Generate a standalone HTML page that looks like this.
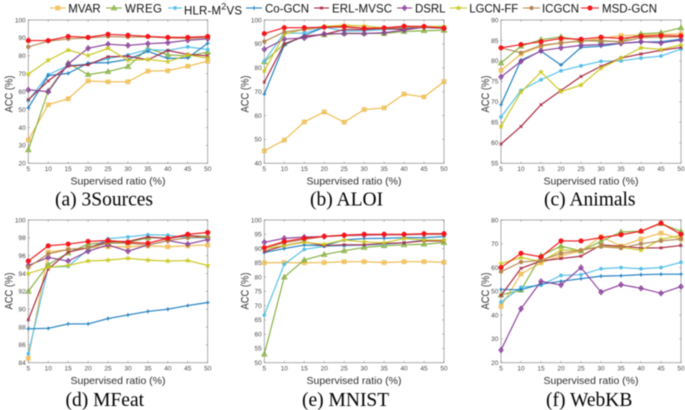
<!DOCTYPE html>
<html lang="en">
<head>
<meta charset="utf-8">
<title>Supervised ratio vs ACC on six datasets</title>
<style>
html,body{margin:0;padding:0;background:#fff;}
#figure{display:block;width:685px;height:410px;filter:blur(0.42px);}
.leg{font:11.5px "Liberation Sans",sans-serif;fill:#111;}
.axt{font:10.5px "Liberation Sans",sans-serif;fill:#2e2e2e;text-anchor:middle;}
.ayt{font:11px "Liberation Sans",sans-serif;fill:#2e2e2e;text-anchor:middle;}
.cap{font:19.5px "Liberation Serif",serif;fill:#000;}
.tick{font:6.5px "Liberation Sans",sans-serif;fill:#4a4a4a;}
</style>
</head>
<body>
<svg id="figure" xmlns="http://www.w3.org/2000/svg" width="685" height="410" viewBox="0 0 685 410">
  <g id="legend">
    <g><text class="leg" x="68.3" y="12.3" textLength="32.4">MVAR</text></g>
    <g><text class="leg" x="125" y="12.3" textLength="37">WREG</text></g>
    <g><text class="leg" x="184" y="14.6" textLength="58">HLR-M<tspan font-size="9" dy="-5">2</tspan><tspan dy="5">VS</tspan></text></g>
    <g><text class="leg" x="265" y="12.3" textLength="44">Co-GCN</text></g>
    <g><text class="leg" x="332" y="12.3" textLength="60">ERL-MVSC</text></g>
    <g><text class="leg" x="415" y="12.3" textLength="30.5">DSRL</text></g>
    <g><text class="leg" x="469.3" y="12.3" textLength="49">LGCN-FF</text></g>
    <g><text class="leg" x="542" y="12.3" textLength="37">ICGCN</text></g>
    <g><text class="leg" x="602" y="12.3" textLength="55">MSD-GCN</text></g>
  </g>

  <g>
    <text class="axt" x="118" y="184.5" textLength="95" lengthAdjust="spacingAndGlyphs">Supervised ratio (%)</text>
    <text class="ayt" transform="translate(12.7,94) rotate(-90)" textLength="37" lengthAdjust="spacingAndGlyphs">ACC (%)</text>
    <text class="cap" x="55" y="205.5">(a) 3Sources</text>
  </g>
  <g>
    <text class="axt" x="354" y="184.5" textLength="95" lengthAdjust="spacingAndGlyphs">Supervised ratio (%)</text>
    <text class="ayt" transform="translate(248.5,94) rotate(-90)" textLength="37" lengthAdjust="spacingAndGlyphs">ACC (%)</text>
    <text class="cap" x="310" y="205.5">(b) ALOI</text>
  </g>
  <g>
    <text class="axt" x="591" y="184.5" textLength="95" lengthAdjust="spacingAndGlyphs">Supervised ratio (%)</text>
    <text class="ayt" transform="translate(489,94) rotate(-90)" textLength="37" lengthAdjust="spacingAndGlyphs">ACC (%)</text>
    <text class="cap" x="544" y="205.5">(c) Animals</text>
  </g>
  <g>
    <text class="axt" x="118" y="384" textLength="95" lengthAdjust="spacingAndGlyphs">Supervised ratio (%)</text>
    <text class="ayt" transform="translate(12.7,291) rotate(-90)" textLength="37" lengthAdjust="spacingAndGlyphs">ACC (%)</text>
    <text class="cap" x="65.5" y="406">(d) MFeat</text>
  </g>
  <g>
    <text class="axt" x="354" y="384" textLength="95" lengthAdjust="spacingAndGlyphs">Supervised ratio (%)</text>
    <text class="ayt" transform="translate(248.5,291) rotate(-90)" textLength="37" lengthAdjust="spacingAndGlyphs">ACC (%)</text>
    <text class="cap" x="302" y="406">(e) MNIST</text>
  </g>
  <g>
    <text class="axt" x="591" y="384" textLength="95" lengthAdjust="spacingAndGlyphs">Supervised ratio (%)</text>
    <text class="ayt" transform="translate(489,291) rotate(-90)" textLength="37" lengthAdjust="spacingAndGlyphs">ACC (%)</text>
    <text class="cap" x="546" y="406">(f) WebKB</text>
  </g>
  <g id="plots"></g>
</svg>

<script>
// Shared categories and tick labels
const ratios = [5,10,15,20,25,30,35,40,45,50];
const seriesNames = ['MVAR','WREG','HLR-M2VS','Co-GCN','ERL-MVSC','DSRL','LGCN-FF','ICGCN','MSD-GCN'];
const seriesColors = ['#efba4a','#86b040','#55bfe8','#1f7fc0','#a8243f','#8a3f9a','#c9c71e','#b38652','#f5141a'];
const seriesMarkers = ['square','triangle','circle','plus','cross','diamond','star','hex','hexred'];

// (a) 3Sources
const ticksA = [20,30,40,50,60,70,80,90,100];
const aMVAR = [33,52.7,56,66,65.5,65.5,71.5,71.7,74.2,77];
const aWREG = [27.5,60.5,76,69.5,71.2,74,84.2,80.5,80,82];
const aHLR  = [55,69.5,74.5,75.5,78.5,80.5,83.5,83,85,83.5];
const aCo   = [51,69,70.2,76,76.2,78,82.5,78.5,78.8,87];
const aERL  = [55.5,66,74.2,75,79.5,79.8,77.8,83,80.8,80];
const aDSRL = [61,60,75.5,84.2,86.5,85.8,86.8,87.3,88.7,89.5];
const aLGCN = [69.8,77.5,83.2,80.2,84.2,77.5,78,76.7,80.5,78.7];
const aICG  = [85,88.2,89.5,90,90.8,90.5,90.6,90,89.8,90.2];
const aMSD  = [88.5,88.5,90.8,90.3,92,91.5,90.8,90.3,90.3,90.8];

// (b) ALOI
const ticksB = [40,50,60,70,80,90,100];
const bMVAR = [45.2,49.7,57.3,61.5,57.2,62.5,63.2,69,67.8,74.2];
const bWREG = [82.5,90,93,93.8,94.5,94.5,94.3,95.2,95.5,95.7];
const bHLR  = [82.8,94.5,94.5,97,95.3,95.5,96,96.3,96.8,96.5];
const bCo   = [69,89.5,93.5,97,97,96.5,96.3,96.3,97,96.8];
const bERL  = [74,90,93.2,94,96,96,96.5,96,97,96.5];
const bDSRL = [87.7,92,92.5,94.2,94.3,94.3,94.7,95.8,97,96.5];
const bLGCN = [78.7,94,96.2,97.3,97.8,97.5,96.7,97,97.3,97.3];
const bICG  = [91,95,96,97,97,96.5,96.5,97,97,97];
const bMSD  = [94.3,96.8,96.8,97,97.3,96.5,96.7,97.4,97.3,96.5];

// (c) Animals
const ticksC = [55,60,65,70,75,80,85,90];
const cMVAR = [77.7,81.7,83.6,84.4,84.8,85.5,86.2,86.3,86.5,86.6];
const cWREG = [79.5,83.6,85.2,85.9,85,84.8,84.8,86.6,86.9,88.1];
const cHLR  = [66.3,72.8,75.4,77.6,78.8,79.9,80,80.7,81.2,82.9];
const cCo   = [69.3,80.2,82.4,79,83.3,83.6,84.3,84.6,84.7,85.3];
const cERL  = [59.7,64,69.3,72.8,76.2,78.7,80.7,81.7,82.6,83.3];
const cDSRL = [76.1,79.9,82.5,83.2,83.8,84,84.3,84.7,84.4,85.1];
const cLGCN = [64,72.4,77.3,72.5,74.1,78.2,80.7,83.2,82.8,83.9];
const cICG  = [83.2,82,83.8,84.4,84.9,85,84.6,85.7,85.8,85.9];
const cMSD  = [83.2,84,84.7,85.5,85.3,85.8,85.5,86,86.2,86.1];

// (d) MFeat
const ticksD = [84,86,88,90,92,94,96,98,100];
const dMVAR = [84.5,96.4,96.7,96.9,97,97,97.1,97,97.1,97.2];
const dWREG = [92,95,96.3,97.3,97.5,97.5,98,98,98.2,98.2];
const dHLR  = [85,94.7,94.8,96.7,97.9,98.1,98.35,98.3,98,98];
const dCo   = [87.8,87.85,88.35,88.35,88.95,89.35,89.75,90,90.4,90.75];
const dERL  = [88.8,94.5,96.4,96.9,97.6,97.6,98.1,97.9,98.3,98];
const dDSRL = [94.9,95.8,95.4,96.5,97.2,96.5,97.2,97.7,97.3,97.8];
const dLGCN = [94,94.7,94.9,95.4,95.5,95.7,95.5,95.4,95.45,94.9];
const dICG  = [94.7,96.2,96.7,96.9,97.4,97.4,97.2,97.7,98,98.1];
const dMSD  = [95.4,97.1,97.3,97.6,97.7,97.5,97.4,97.95,98.4,98.6];

// (e) MNIST
const ticksE = [50,55,60,65,70,75,80,85,90,95,100];
const eMVAR = [85,85.1,85,85.1,85.4,85.4,85.1,85.4,85.4,85.2];
const eWREG = [53,80,86,87.9,89.2,90.4,91,91.3,91.5,92.1];
const eHLR  = [66.7,84.5,89.7,90.8,91,91.2,91.5,92,93,93];
const eCo   = [88.6,90,91.2,91,93,93.5,93.6,93.8,93.8,94.2];
const eERL  = [89,91,92.3,91,91.3,91.3,91.8,92,92.7,92.6];
const eDSRL = [92.2,93.6,94,94.2,94.5,94.7,94.8,94.8,95,95];
const eLGCN = [90,91,92.2,91.5,93,92.3,92,93.5,93,92.9];
const eICG  = [90.2,92,93.2,94.2,94.6,94.9,94.9,94.9,95.1,95];
const eMSD  = [90.3,92.5,93.6,94.3,94.7,95,95,95,95.2,95.2];

// (f) WebKB
const ticksF = [20,30,40,50,60,70,80];
const fMVAR = [43.7,57.3,62,65,67,73,69,72,74.5,72];
const fWREG = [48.5,50.5,65,69,67,71,75,75.3,78.5,75.2];
const fHLR  = [45.5,51.7,52.6,56.7,57,59.5,60,59.5,60,62.2];
const fCo   = [50.8,50.7,53,54.2,55.3,56.4,56.6,57,57.2,57.2];
const fERL  = [48.2,59.7,62.8,63.8,64.8,69.5,69,68.2,68.3,69.3];
const fDSRL = [25.3,42.7,54.2,52.7,60,49.7,52.8,51.3,49.2,52];
const fLGCN = [61.7,64.2,62.5,67.3,67.3,69,68.5,67.3,71.9,73.5];
const fICG  = [58.3,62.3,63,66,67.3,68.8,68.2,70,71.2,72];
const fMSD  = [60,66,64.5,71.2,71.2,72.6,73.8,75.3,78.7,74];

const NS = 'http://www.w3.org/2000/svg';
const plots = document.getElementById('plots');
const legendRoot = document.getElementById('legend');

function make(tag, attrs, parent) {
  const el = document.createElementNS(NS, tag);
  for (const k in attrs) el.setAttribute(k, attrs[k]);
  parent.appendChild(el);
  return el;
}

function drawMarker(parent, kind, cx, cy, color) {
  let el;
  const light = color + '99';
  if (kind === 'square') {
    el = make('rect', {x:cx-1.9,y:cy-1.9,width:3.8,height:3.8,fill:light,stroke:color,'stroke-width':0.8}, parent);
  } else if (kind === 'triangle') {
    el = make('polygon', {points:[cx,cy-2.7,cx+2.6,cy+1.9,cx-2.6,cy+1.9].join(' '),fill:light,stroke:color,'stroke-width':0.8}, parent);
  } else if (kind === 'circle') {
    el = make('circle', {cx:cx,cy:cy,r:1.7,fill:color,stroke:color,'stroke-width':0.4}, parent);
  } else if (kind === 'plus') {
    el = make('path', {d:'M'+(cx-1.9)+' '+cy+'H'+(cx+1.9)+'M'+cx+' '+(cy-1.9)+'V'+(cy+1.9),stroke:color,'stroke-width':1.1,fill:'none'}, parent);
  } else if (kind === 'cross') {
    el = make('path', {d:'M'+(cx-1.4)+' '+(cy-1.4)+'L'+(cx+1.4)+' '+(cy+1.4)+'M'+(cx+1.4)+' '+(cy-1.4)+'L'+(cx-1.4)+' '+(cy+1.4),stroke:color,'stroke-width':1,fill:'none'}, parent);
  } else if (kind === 'diamond') {
    el = make('polygon', {points:[cx,cy-2.6,cx+2.2,cy,cx,cy+2.6,cx-2.2,cy].join(' '),fill:light,stroke:color,'stroke-width':0.9}, parent);
  } else if (kind === 'star') {
    const pts = [];
    for (let i = 0; i < 10; i++) {
      const r = i % 2 ? 1.1 : 2.8;
      const a = -Math.PI / 2 + i * Math.PI / 5;
      pts.push(cx + r * Math.cos(a), cy + r * Math.sin(a));
    }
    el = make('polygon', {points:pts.join(' '),fill:color,stroke:color,'stroke-width':0.3}, parent);
  } else if (kind === 'hex') {
    el = make('circle', {cx:cx,cy:cy,r:2,fill:color,stroke:color,'stroke-width':0.3}, parent);
  } else {
    el = make('circle', {cx:cx,cy:cy,r:2.4,fill:color,stroke:color,'stroke-width':0.3}, parent);
  }
  return el;
}

function drawPanel(id, box, yTicks, seriesList) {
  const g = make('g', {}, plots);
  
  
  const xMin = ratios[0], xMax = ratios[ratios.length - 1];
  const yMin = yTicks[0], yMax = yTicks[yTicks.length - 1];
  const xScale = v => box.left + (v - xMin) / (xMax - xMin) * (box.right - box.left);
  const yScale = v => box.bottom - (v - yMin) / (yMax - yMin) * (box.bottom - box.top);

  const frame = make('rect', {x:box.left,y:box.top,width:box.right-box.left,height:box.bottom-box.top,fill:'#fff',stroke:'#8a8a8a','stroke-width':0.7}, g);
  
  

  ratios.forEach(v => {
    const x = xScale(v);
    make('path', {d:'M'+x+' '+box.bottom+'v-1.8M'+x+' '+box.top+'v1.8',stroke:'#777','stroke-width':0.5,fill:'none'}, g);
    const t = make('text', {class:'tick',x:x,y:box.bottom+7.6,'text-anchor':'middle'}, g);
    
    
    t.textContent = v;
  });
  yTicks.forEach(v => {
    const y = yScale(v);
    make('path', {d:'M'+box.left+' '+y+'h1.8M'+box.right+' '+y+'h-1.8',stroke:'#777','stroke-width':0.5,fill:'none'}, g);
    const t = make('text', {class:'tick',x:box.left-2.6,y:y+2.3,'text-anchor':'end'}, g);
    
    
    t.textContent = v;
  });

  seriesList.forEach((values, s) => {
    const sg = make('g', {}, g);
    
    
    const pts = values.map((v, i) => xScale(ratios[i]).toFixed(2) + ',' + yScale(v).toFixed(2)).join(' ');
    const line = make('polyline', {points:pts,fill:'none',stroke:seriesColors[s],'stroke-width':1.15,'stroke-linejoin':'round'}, sg);
    
    
    values.forEach((v, i) => {
      const m = drawMarker(sg, seriesMarkers[s], xScale(ratios[i]), yScale(v), seriesColors[s]);
      
      
    });
  });
}

const legendSpans = [[50,65.7],[106,122],[168,182],[246,262],[314,329],[397,412],[450,467],[523,540],[581,599]];
legendRoot.querySelectorAll('g').forEach((entry, s) => {
  const [a, b] = legendSpans[s];
  const y = 8;
  make('line', {x1:a,x2:b,y1:y,y2:y,stroke:seriesColors[s],'stroke-width':1.05}, entry);
  drawMarker(entry, seriesMarkers[s], (a + b) / 2, y, seriesColors[s]);
});

drawPanel('3sources', {left:28.3,right:207.7,top:20,bottom:163.3}, ticksA, [aMVAR,aWREG,aHLR,aCo,aERL,aDSRL,aLGCN,aICG,aMSD]);
drawPanel('aloi', {left:264.3,right:444,top:20,bottom:163.3}, ticksB, [bMVAR,bWREG,bHLR,bCo,bERL,bDSRL,bLGCN,bICG,bMSD]);
drawPanel('animals', {left:501,right:681,top:20,bottom:163.3}, ticksC, [cMVAR,cWREG,cHLR,cCo,cERL,cDSRL,cLGCN,cICG,cMSD]);
drawPanel('mfeat', {left:28.3,right:207.7,top:220,bottom:362.7}, ticksD, [dMVAR,dWREG,dHLR,dCo,dERL,dDSRL,dLGCN,dICG,dMSD]);
drawPanel('mnist', {left:264.3,right:444,top:220,bottom:362.7}, ticksE, [eMVAR,eWREG,eHLR,eCo,eERL,eDSRL,eLGCN,eICG,eMSD]);
drawPanel('webkb', {left:501,right:681,top:220,bottom:362.7}, ticksF, [fMVAR,fWREG,fHLR,fCo,fERL,fDSRL,fLGCN,fICG,fMSD]);
</script>
</body>
</html>
